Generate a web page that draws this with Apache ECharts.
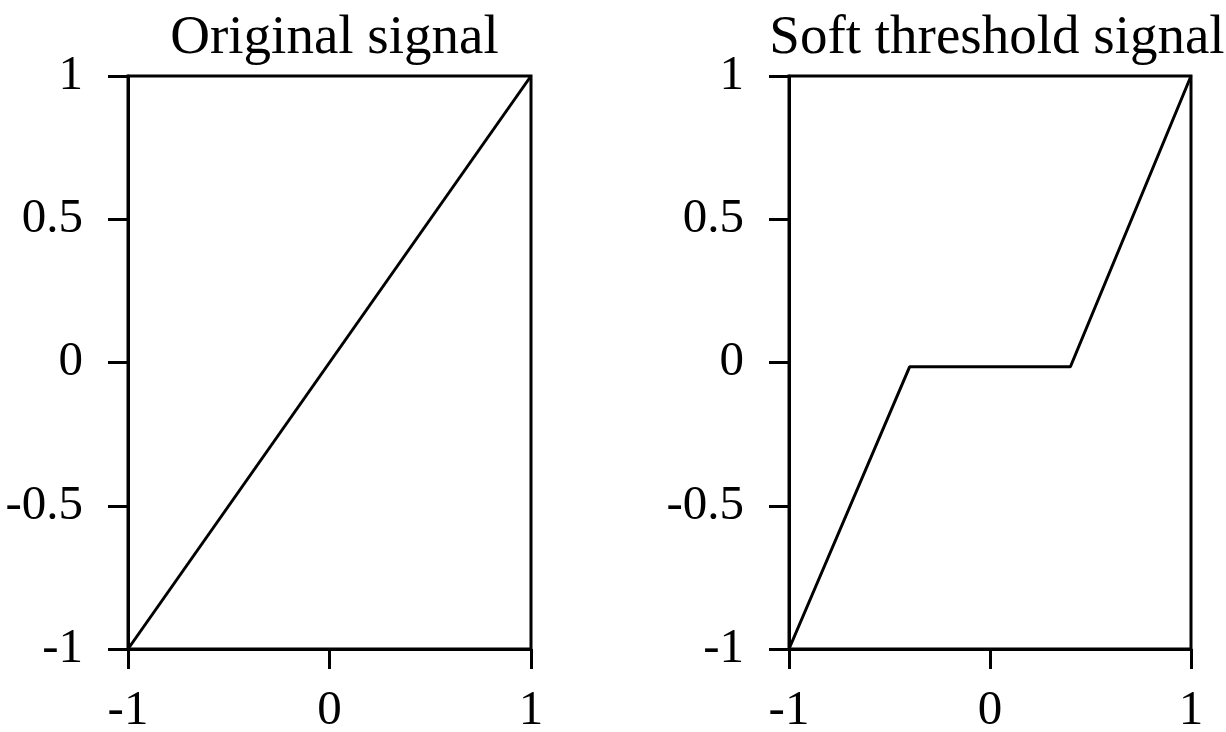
<!DOCTYPE html>
<html>
<head>
<meta charset="utf-8">
<script src="https://cdn.jsdelivr.net/npm/echarts@6/dist/echarts.min.js"></script>
<style>html,body{margin:0;padding:0;background:#fff}#c{width:1226px;height:732px}</style>
</head>
<body>
<div id="c"></div>
<script>
var titles = ['Original signal', 'Soft threshold signal'];
var origX = [-1, 1];
var origY = [-1, 1];
var softX = [-1, -0.4, 0.4, 1];
var softY = [-1, -0.015, -0.015, 1];

var FONT = '"Liberation Serif", "Times New Roman", serif';
function pairs(xs, ys) { return xs.map(function (x, i) { return [x, ys[i]]; }); }

var grids = [
  {left: 128, right: 695, top: 76, bottom: 83},
  {left: 789, right: 35, top: 76, bottom: 83}
];
function axisCommon(interval) {
  return {
    type: 'value', min: -1, max: 1, interval: interval,
    splitLine: {show: false},
    axisLine: {show: true, onZero: false, lineStyle: {color: '#000', width: 3}},
    axisTick: {show: true, inside: false, length: 20, lineStyle: {color: '#000', width: 3}},
    axisLabel: {color: '#000', fontFamily: FONT, fontSize: 49}
  };
}
var xAxes = [], yAxes = [];
[0, 1].forEach(function (i) {
  var xa = axisCommon(1); xa.gridIndex = i; xa.axisLabel.margin = 38;
  var ya = axisCommon(0.5); ya.gridIndex = i; ya.axisLabel.margin = 45;
  xAxes.push(xa); yAxes.push(ya);
});
var option = {
  animation: false,
  backgroundColor: '#fff',
  title: [
    {text: titles[0], left: 329.5, textAlign: 'center', top: 6, textStyle: {fontFamily: FONT, fontSize: 55, fontWeight: 'normal', color: '#000'}},
    {text: titles[1], left: 992, textAlign: 'center', top: 6, textStyle: {fontFamily: FONT, fontSize: 55, fontWeight: 'normal', color: '#000'}}
  ],
  grid: grids.map(function (g) { return Object.assign({show: true, outerBoundsMode: 'none', containLabel: false, borderColor: '#000', borderWidth: 3, backgroundColor: 'transparent'}, g); }),
  xAxis: xAxes,
  yAxis: yAxes,
  series: [
    {type: 'line', xAxisIndex: 0, yAxisIndex: 0, data: pairs(origX, origY), showSymbol: false, lineStyle: {color: '#000', width: 3}},
    {type: 'line', xAxisIndex: 1, yAxisIndex: 1, data: pairs(softX, softY), showSymbol: false, lineStyle: {color: '#000', width: 3}}
  ]
};
echarts.init(document.getElementById('c')).setOption(option);
</script>
</body>
</html>
